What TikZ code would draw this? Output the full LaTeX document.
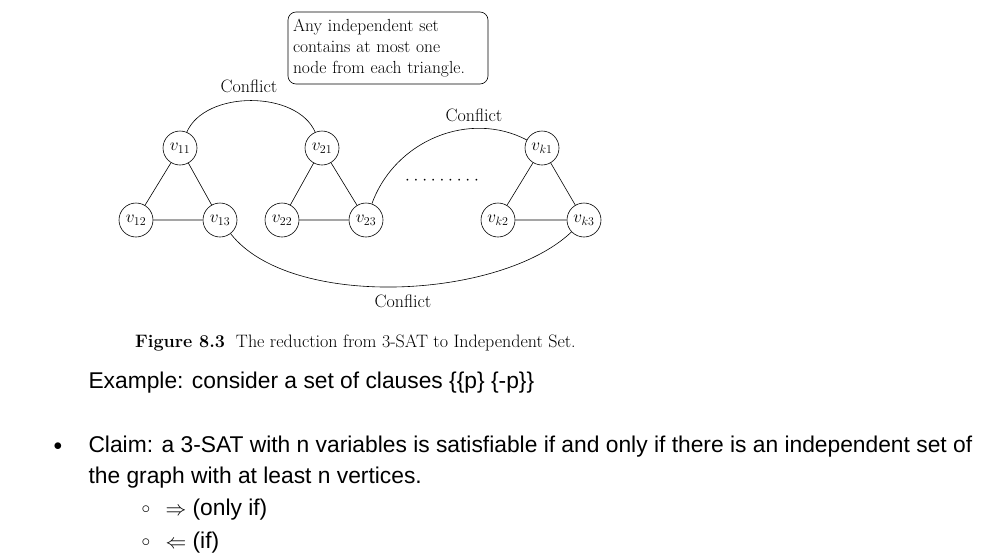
\documentclass[tikz,border=0pt]{standalone}
\usepackage{fontspec}
\newfontfamily\sansf{Liberation Sans}
\begin{document}
\begin{tikzpicture}[x=1pt,y=-1pt,
 v/.style={circle,draw,line width=0.6pt,minimum size=34pt,inner sep=0pt,font=\fontsize{17}{19}\selectfont},
 lab/.style={font=\fontsize{18}{17}\selectfont},
 e/.style={line width=0.6pt},
 st/.style={font=\sansf\fontsize{22.8}{31}\selectfont,anchor=west}]
\useasboundingbox[fill=white] (0,0) rectangle (991,552);
\node[v] (v11) at (180,148) {$v_{11}$};
\node[v] (v21) at (322,148) {$v_{21}$};
\node[v] (vk1) at (542,148) {$v_{k1}$};
\node[v] (v12) at (136,220) {$v_{12}$};
\node[v] (v13) at (220,220) {$v_{13}$};
\node[v] (v22) at (282,220) {$v_{22}$};
\node[v] (v23) at (366,220) {$v_{23}$};
\node[v] (vk2) at (498,220) {$v_{k2}$};
\node[v] (vk3) at (584,220) {$v_{k3}$};
\draw[e] (v11)--(v12) (v11)--(v13) (v12)--(v13);
\draw[e] (v21)--(v22) (v21)--(v23) (v22)--(v23);
\draw[e] (vk1)--(vk2) (vk1)--(vk3) (vk2)--(vk3);
\draw[e] (v11) .. controls (205,90) and (297,90) .. (v21);
\draw[e] (v23) .. controls (395,140) and (470,110) .. (vk1);
\draw[e] (v13) .. controls (290,310) and (500,300) .. (vk3);
\node[lab] (c1) at (249,86) {Conflict};
\node[lab] (c2) at (474,115) {Conflict};
\node[lab] (c3) at (403,301) {Conflict};
\node[draw,rounded corners=8pt,line width=0.6pt,align=left,minimum width=200pt,minimum height=72pt,text width=190pt,inner sep=4pt,font=\fontsize{17.5}{21}\selectfont] (box) at (388,48)
 {Any independent set\\contains at most one\\node from each triangle.};
\node[lab] (dots) at (442,181) {$\cdot\cdot\cdot\cdot\cdot\cdot\cdot\cdot\cdot$};
\node[lab,anchor=west,inner sep=0pt] (cap) at (135,343) {\textbf{Figure 8.3}\ \ The reduction from 3-SAT to Independent Set.};
\node[st] (ex) at (85,383) {Example: consider a set of clauses \{\{p\} \{-p\}\}};
\node[font=\sansf\fontsize{16}{16}\selectfont] (b1) at (58,447) {$\bullet$};
\node[st,align=left] (cl) at (85,462) {Claim: a 3-SAT with n variables is satisfiable if and only if there is an independent set of\\the graph with at least n vertices.};
\node[font=\fontsize{18}{18}\selectfont] (b2) at (146,510) {$\circ$};
\node[st] (s1) at (162,510) {$\Rightarrow$ (only if)};
\node[font=\fontsize{18}{18}\selectfont] (b3) at (146,543) {$\circ$};
\node[st] (s2) at (162,543) {$\Leftarrow$ (if)};
\end{tikzpicture}
\end{document}
